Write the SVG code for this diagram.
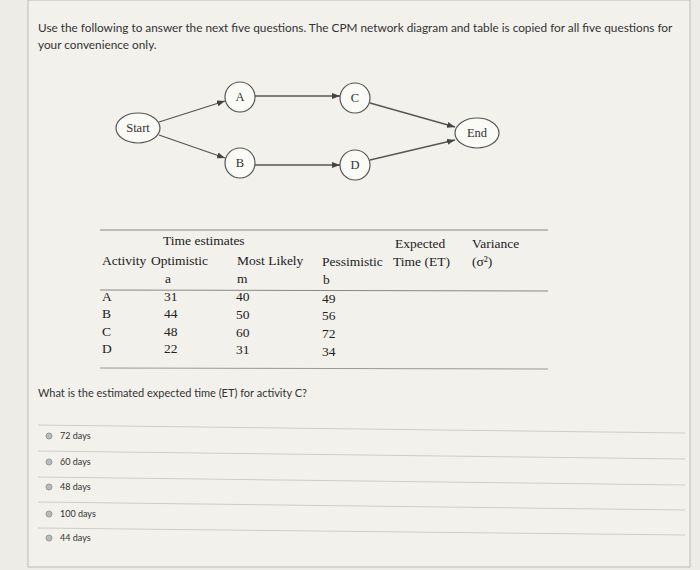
<svg xmlns="http://www.w3.org/2000/svg" width="700" height="570" viewBox="0 0 700 570">
<defs>
<marker id="ah" markerWidth="8" markerHeight="6" refX="8" refY="3" orient="auto" markerUnits="userSpaceOnUse"><path d="M0,0 L8,3 L0,6 z" fill="#444"/></marker>
<style>
.n{fill:#fafaf6;stroke:#555;stroke-width:1.2}
.nt{font-family:"Liberation Serif",serif;font-size:12.5px;fill:#333;text-anchor:middle}
.e{stroke:#555;stroke-width:1.3;fill:none;marker-end:url(#ah)}
.tb{font-family:"Liberation Serif",serif;font-size:13.5px;fill:#222}
.ui{font-family:Lato,"Liberation Sans",sans-serif;fill:#333}
.sep{stroke:#ccc;stroke-width:1}
.rad{fill:#bbb;stroke:#999;stroke-width:1}
</style>
</defs>
<rect width="700" height="570" fill="#eeece6"/>
<rect x="28" y="0" width="662" height="567" fill="#f2f1ec" stroke="#bbb"/>
<text class="ui" x="38" y="32" font-size="11.8">Use the following to answer the next five questions. The CPM network diagram and table is copied for all five questions for</text>
<text class="ui" x="38" y="49" font-size="11.8">your convenience only.</text>
<g id="connectors">
<path class="e" d="M159,122 L225,101"/>
<path class="e" d="M159,135 L225,158"/>
<path class="e" d="M255,96 L340,96"/>
<path class="e" d="M255,165 L340,165"/>
<path class="e" d="M370,103 L455,127"/>
<path class="e" d="M370,160 L455,140"/>
</g>
<g id="Start"><ellipse class="n" cx="138" cy="128" rx="22" ry="15"/><text class="nt" x="138" y="132">Start</text></g>
<g id="A"><circle class="n" cx="240" cy="97" r="15"/><text class="nt" x="240" y="101">A</text></g>
<g id="C"><circle class="n" cx="355" cy="98" r="15"/><text class="nt" x="355" y="102">C</text></g>
<g id="B"><circle class="n" cx="240" cy="163" r="15"/><text class="nt" x="240" y="167">B</text></g>
<g id="D"><circle class="n" cx="355" cy="165" r="15"/><text class="nt" x="355" y="169">D</text></g>
<g id="End"><ellipse class="n" cx="477" cy="133" rx="22" ry="15"/><text class="nt" x="477" y="137">End</text></g>
<g id="table">
<line x1="100" y1="230" x2="548" y2="230" stroke="#888"/>
<text class="tb" x="163" y="245">Time estimates</text>
<text class="tb" x="395" y="248">Expected</text>
<text class="tb" x="472" y="248">Variance</text>
<text class="tb" x="102" y="265">Activity</text>
<text class="tb" x="151" y="265">Optimistic</text>
<text class="tb" x="237" y="265">Most Likely</text>
<text class="tb" x="322" y="266">Pessimistic</text>
<text class="tb" x="393" y="266">Time (ET)</text>
<text class="tb" x="472" y="266">(σ²)</text>
<text class="tb" x="165" y="283">a</text><text class="tb" x="237" y="283">m</text><text class="tb" x="323" y="284">b</text>
<line x1="100" y1="290" x2="548" y2="291" stroke="#888"/>
<g class="tb">
<text x="102" y="301">A</text><text x="164" y="301">31</text><text x="236" y="301">40</text><text x="322" y="303">49</text>
<text x="102" y="318">B</text><text x="164" y="318">44</text><text x="236" y="319">50</text><text x="322" y="320">56</text>
<text x="102" y="336">C</text><text x="164" y="336">48</text><text x="236" y="337">60</text><text x="322" y="338">72</text>
<text x="102" y="353">D</text><text x="164" y="353">22</text><text x="236" y="354">31</text><text x="322" y="356">34</text>
</g>
<line x1="100" y1="368" x2="548" y2="369" stroke="#999"/>
</g>
<text class="ui" x="38" y="397" font-size="11">What is the estimated expected time (ET) for activity C?</text>
<g id="options">
<line class="sep" x1="38" y1="425" x2="685" y2="433"/>
<line class="sep" x1="38" y1="451" x2="685" y2="459"/>
<line class="sep" x1="38" y1="477" x2="685" y2="485"/>
<line class="sep" x1="38" y1="502" x2="685" y2="510"/>
<line class="sep" x1="38" y1="528" x2="685" y2="535"/>
<circle class="rad" cx="49" cy="436" r="3"/><text class="ui" x="60" y="439" font-size="9">72 days</text>
<circle class="rad" cx="49" cy="462" r="3"/><text class="ui" x="60" y="465" font-size="9">60 days</text>
<circle class="rad" cx="49" cy="487" r="3"/><text class="ui" x="60" y="490" font-size="9">48 days</text>
<circle class="rad" cx="49" cy="514" r="3"/><text class="ui" x="60" y="517" font-size="9">100 days</text>
<circle class="rad" cx="49" cy="538" r="3"/><text class="ui" x="60" y="541" font-size="9">44 days</text>
</g>
</svg>
